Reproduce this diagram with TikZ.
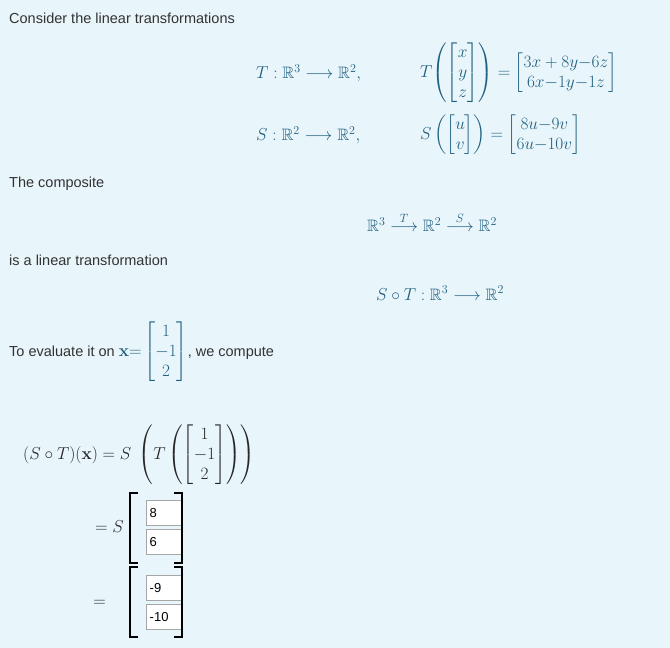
\documentclass[tikz,border=0pt]{standalone}
\usepackage{amsmath,amssymb}
\usepackage[no-math]{fontspec}
\setmainfont{Liberation Sans}
\definecolor{bg}{HTML}{E8F5FA}
\definecolor{txt}{HTML}{333333}
\definecolor{mth}{HTML}{1F5F80}
\begin{document}
\begin{tikzpicture}[x=1pt,y=-1pt,
  lbl/.style={anchor=west,inner sep=0,text=txt,font=\fontsize{14.5}{17}\selectfont},
  mt/.style={inner sep=0,text=mth,font=\fontsize{16.5}{20}\selectfont},
  mb/.style={inner sep=0,text=black!85,font=\fontsize{16.5}{20}\selectfont},
  ibox/.style={draw=gray!70,fill=white,minimum width=35,minimum height=25,anchor=north west,inner sep=3,text=black,font=\fontsize{13}{15}\selectfont,text width=28},
  brk/.style={line width=1.8pt,black}]
\fill[bg] (0,0) rectangle (670,648);
\useasboundingbox (0,0) rectangle (670,648);
\node[lbl] (t1) at (9,18) {Consider the linear transformations};
\node[mt,anchor=west] (tm) at (256,73) {$T:\mathbb{R}^3\longrightarrow\mathbb{R}^2,$};
\node[mt,anchor=west] (sm) at (256,135) {$S:\mathbb{R}^2\longrightarrow\mathbb{R}^2,$};
\node[mt,anchor=west] (tf) at (420,73) {$T\!\left(\begin{bmatrix}x\\y\\z\end{bmatrix}\right)=\begin{bmatrix}3x+8y{-}6z\\6x{-}1y{-}1z\end{bmatrix}$};
\node[mt,anchor=west] (sf) at (420,135) {$S\left(\begin{bmatrix}u\\v\end{bmatrix}\right)=\begin{bmatrix}8u{-}9v\\6u{-}10v\end{bmatrix}$};
\node[lbl] (t2) at (9,184) {The composite};
\node[mt] (comp) at (432,222) {$\mathbb{R}^3\overset{T}{\longrightarrow}\mathbb{R}^2\overset{S}{\longrightarrow}\mathbb{R}^2$};
\node[lbl] (t3) at (9,260) {is a linear transformation};
\node[mt] (st) at (440,293) {$S\circ T:\mathbb{R}^3\longrightarrow\mathbb{R}^2$};
\node[lbl] (t4) at (9,352) {To evaluate it on {\fontsize{16.5}{20}\selectfont\textcolor{mth}{$\mathbf{x}{=}\begin{bmatrix}1\\-1\\2\end{bmatrix}$}}, we compute};
\node[mb,anchor=west] (l1) at (23,455) {$(S\circ T)(\mathbf{x})=S\ \left(T\left(\begin{bmatrix}1\\-1\\2\end{bmatrix}\right)\right)$};
\node[mb,anchor=east] (l2) at (124,527) {$=S$};
\node[mb,anchor=east] (l3) at (106,603) {$=$};
\node[ibox] (b1) at (146,500) {8};
\node[ibox] (b2) at (146,529) {6};
\node[ibox] (b3) at (146,575) {-9};
\node[ibox] (b4) at (146,604) {-10};
\draw[brk] (138,493) -- (130,493) -- (130,563) -- (138,563);
\draw[brk] (174,493) -- (182,493) -- (182,563) -- (174,563);
\draw[brk] (138,567) -- (130,567) -- (130,637) -- (138,637);
\draw[brk] (174,567) -- (182,567) -- (182,637) -- (174,637);
\end{tikzpicture}
\end{document}
